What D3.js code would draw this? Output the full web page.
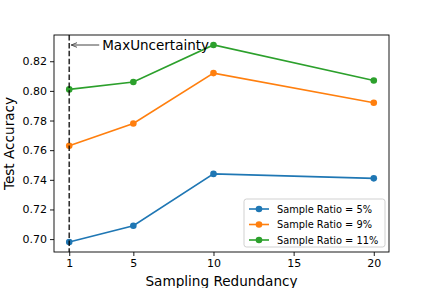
<!DOCTYPE html>
<html>
<head>
<meta charset="utf-8">
<script src="https://cdn.jsdelivr.net/npm/d3@7"></script>
<style>
  body { margin: 0; background: #fff; }
  text { font-family: "DejaVu Sans", sans-serif; }
</style>
</head>
<body>
<div id="chart"></div>
<script>
// data
var redundancy = [1, 5, 10, 20];
var seriesNames = ["Sample Ratio = 5%", "Sample Ratio = 9%", "Sample Ratio = 11%"];
var ratio5 = [0.698, 0.709, 0.744, 0.741];
var ratio9 = [0.763, 0.778, 0.812, 0.792];
var ratio11 = [0.801, 0.806, 0.831, 0.807];
var xTicks = [1, 5, 10, 15, 20];
var yTicks = [0.70, 0.72, 0.74, 0.76, 0.78, 0.80, 0.82];
var colors = ["#1f77b4", "#ff7f0e", "#2ca02c"];

var margin = { left: 54, right: 43, top: 35, bottom: 36 };
var width = 432 - margin.left - margin.right,
    height = 288 - margin.top - margin.bottom;

var svg = d3.select("#chart").append("svg")
    .attr("width", 432)
    .attr("height", 288);

var g = svg.append("g")
    .attr("transform", "translate(" + margin.left + "," + margin.top + ")");

var x = d3.scaleLinear().domain([0.05, 20.95]).range([0, width]);
var y = d3.scaleLinear().domain([0.6913, 0.8377]).range([height, 0]);

// axes
var xAxis = g.append("g")
    .attr("transform", "translate(0," + height + ")")
    .call(d3.axisBottom(x).tickValues(xTicks).tickSize(4).tickPadding(3).tickFormat(d3.format("d")));
var yAxis = g.append("g")
    .call(d3.axisLeft(y).tickValues(yTicks).tickSize(4).tickPadding(3).tickFormat(d3.format(".2f")));
[xAxis, yAxis].forEach(function(a) {
    a.select(".domain").remove();
    a.selectAll("text").attr("font-size", "11px").attr("fill", "#000")
        .attr("font-family", "DejaVu Sans");
    a.selectAll("line").attr("stroke", "#000").attr("stroke-width", 0.9);
});

// frame
g.append("rect")
    .attr("width", width).attr("height", height)
    .attr("fill", "none").attr("stroke", "#000").attr("stroke-width", 0.9);

// series
var allSeries = [ratio5, ratio9, ratio11];
var line = d3.line()
    .x(function(d, i) { return x(redundancy[i]); })
    .y(function(d) { return y(d); });

allSeries.forEach(function(s, k) {
    g.append("path").datum(s)
        .attr("d", line)
        .attr("fill", "none")
        .attr("stroke", colors[k])
        .attr("stroke-width", 1.6);
    g.selectAll(".pt" + k).data(s).enter()
        .append("circle")
        .attr("cx", function(d, i) { return x(redundancy[i]); })
        .attr("cy", function(d) { return y(d); })
        .attr("r", 3.3)
        .attr("fill", colors[k]);
});

// dashed vertical at redundancy 1
g.append("line")
    .attr("x1", x(1)).attr("x2", x(1))
    .attr("y1", 0).attr("y2", height)
    .attr("stroke", "#000").attr("stroke-width", 1.6)
    .attr("stroke-dasharray", "5.5,2.4")
    .attr("opacity", 0.8);

// annotation arrow
svg.append("defs").append("marker")
    .attr("id", "arr").attr("viewBox", "0 0 10 10")
    .attr("refX", 10).attr("refY", 5)
    .attr("markerWidth", 6).attr("markerHeight", 6)
    .attr("orient", "auto")
    .append("path").attr("d", "M0,1 L10,5 L0,9")
    .attr("fill", "none").attr("stroke", "#444").attr("stroke-width", 1.5);

g.append("line")
    .attr("x1", x(1) + 30).attr("x2", x(1) + 2)
    .attr("y1", 10).attr("y2", 10)
    .attr("stroke", "#444").attr("stroke-width", 1)
    .attr("marker-end", "url(#arr)");
g.append("text")
    .attr("x", x(1) + 33).attr("y", 15)
    .attr("font-size", "13.5px")
    .text("MaxUncertainty");

// axis labels
svg.append("text")
    .attr("x", margin.left + width / 2).attr("y", 286)
    .attr("text-anchor", "middle").attr("font-size", "13.6px")
    .text("Sampling Redundancy");
svg.append("text")
    .attr("transform", "translate(14," + (margin.top + height / 2) + ") rotate(-90)")
    .attr("text-anchor", "middle").attr("font-size", "13.6px")
    .text("Test Accuracy");

// legend
var legend = g.append("g").attr("transform", "translate(190,164)");
legend.append("rect")
    .attr("width", 141).attr("height", 48)
    .attr("rx", 2.5)
    .attr("fill", "#fff").attr("fill-opacity", 0.8)
    .attr("stroke", "#ccc").attr("stroke-width", 0.9);
seriesNames.forEach(function(name, k) {
    var row = legend.append("g").attr("transform", "translate(0," + (10 + k * 15.5) + ")");
    row.append("line").attr("x1", 5).attr("x2", 25).attr("y1", 0).attr("y2", 0)
        .attr("stroke", colors[k]).attr("stroke-width", 1.6);
    row.append("circle").attr("cx", 15).attr("cy", 0).attr("r", 3.3).attr("fill", colors[k]);
    row.append("text").attr("x", 33).attr("y", 3.5)
        .attr("font-size", "9.8px").text(name);
});
</script>
</body>
</html>
